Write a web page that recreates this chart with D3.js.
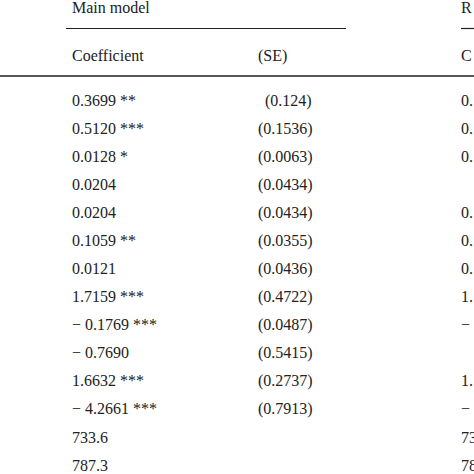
<!DOCTYPE html><html><head><meta charset="utf-8"><script src="https://cdn.jsdelivr.net/npm/d3@7"></script>
<style>body{margin:0;background:#fff}text{font-family:"Liberation Serif","DejaVu Serif",serif;font-size:16px;fill:#222}</style></head><body><script>
const coefs=["0.3699 **","0.5120 ***","0.0128 *","0.0204","0.0204","0.1059 **","0.0121","1.7159 ***","\u2212 0.1769 ***","\u2212 0.7690","1.6632 ***","\u2212 4.2661 ***","733.6","787.3"];
const ses=["(0.124)","(0.1536)","(0.0063)","(0.0434)","(0.0434)","(0.0355)","(0.0436)","(0.4722)","(0.0487)","(0.5415)","(0.2737)","(0.7913)","",""];
const robust=["0.","0.","0.","","0.","0.","0.","1.","\u2212","","1.","\u2212","73","78"];
const W=474,H=474;
const svg=d3.select("body").append("svg").attr("width",W).attr("height",H);
const y=d3.scalePoint().domain(d3.range(coefs.length)).range([100,465]);
const g=svg.append("g");
g.append("text").attr("x",72).attr("y",13).text("Main model");
g.append("text").attr("x",461).attr("y",13).text("R");
g.append("line").attr("x1",66).attr("x2",346).attr("y1",28.5).attr("y2",28.5).attr("stroke","#222").attr("stroke-width",1.2);
g.append("line").attr("x1",461).attr("x2",474).attr("y1",28.5).attr("y2",28.5).attr("stroke","#222").attr("stroke-width",1.2);
g.append("text").attr("x",72).attr("y",61).text("Coefficient");
g.append("text").attr("x",258).attr("y",61).text("(SE)");
g.append("text").attr("x",461).attr("y",61).text("C");
g.append("line").attr("x1",0).attr("x2",W).attr("y1",76).attr("y2",76).attr("stroke","#222").attr("stroke-width",1.6);
g.selectAll(".c").data(coefs).join("text").attr("x",72).attr("y",(d,i)=>y(i)).attr("dy","0.35em").text(d=>d);
g.selectAll(".s").data(ses).join("text").attr("x",(d,i)=>i==0?265:258).attr("y",(d,i)=>y(i)).attr("dy","0.35em").text(d=>d);
g.selectAll(".r").data(robust).join("text").attr("x",461).attr("y",(d,i)=>y(i)).attr("dy","0.35em").text(d=>d);
</script></body></html>
